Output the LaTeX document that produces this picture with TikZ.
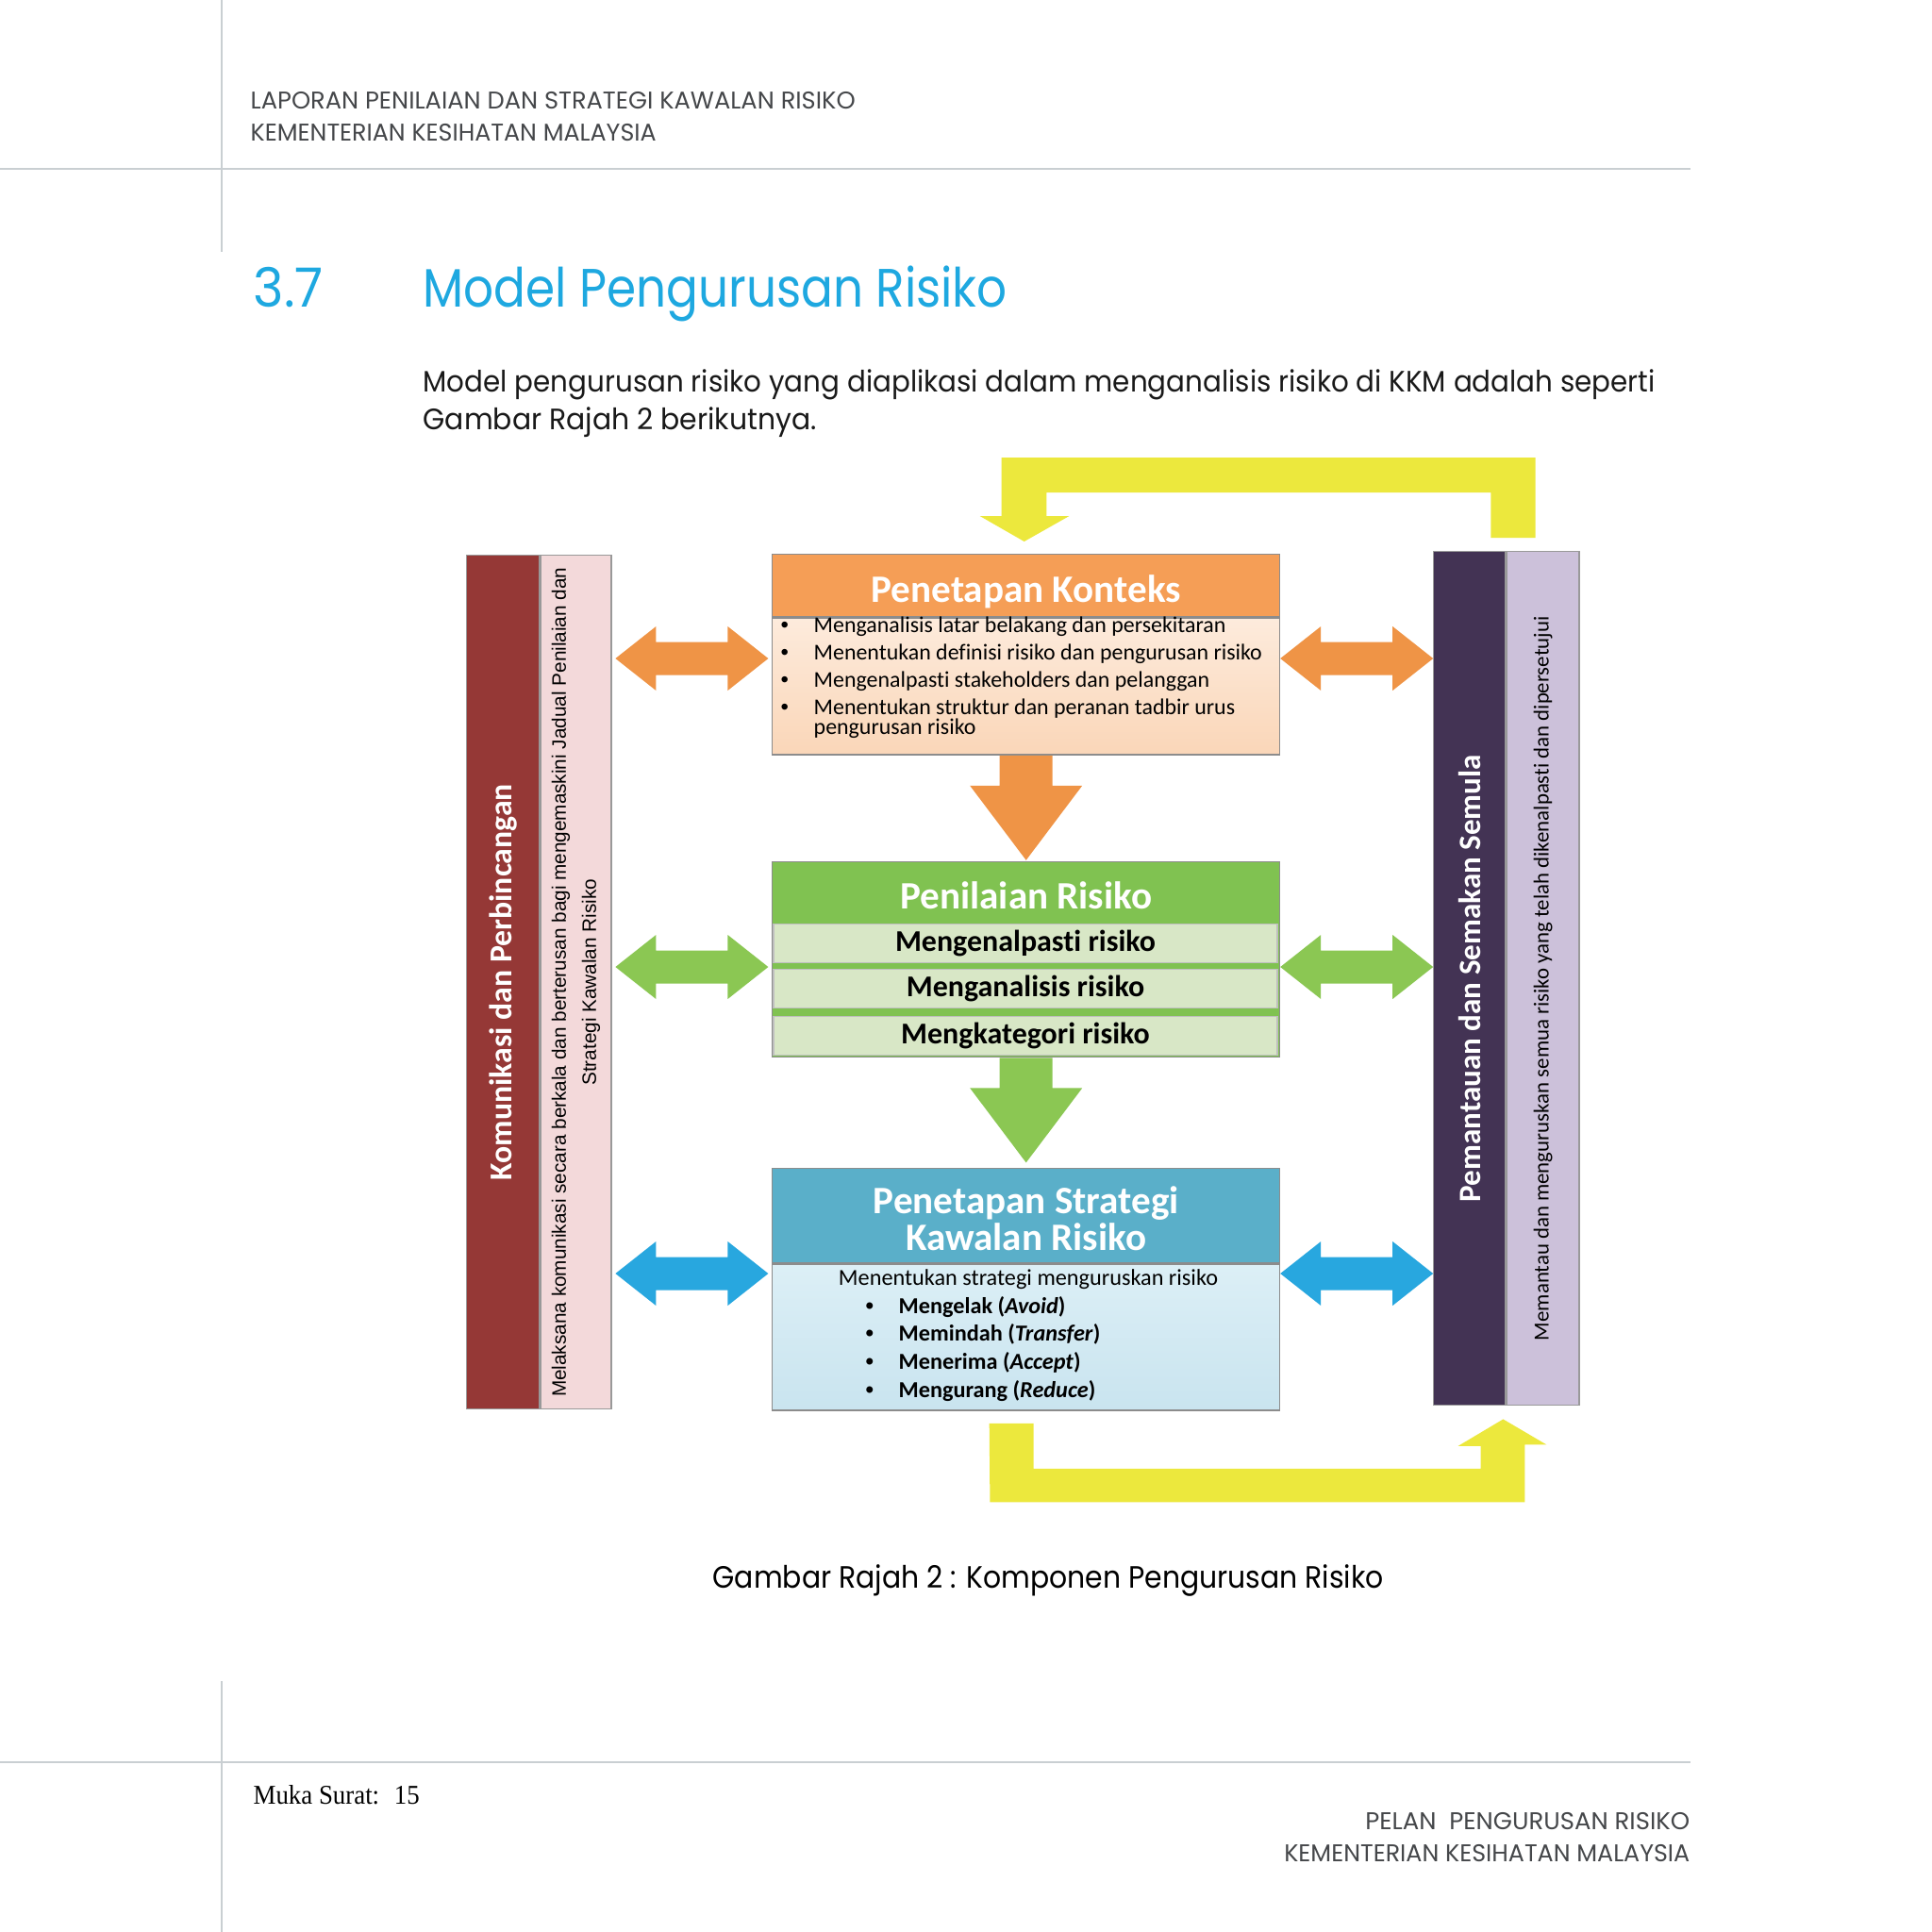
\documentclass[tikz,border=0pt]{standalone}
\usepackage{fontspec}
\usepackage{graphicx}
\setmainfont[Ligatures=NoCommon, Contextuals=NoAlternate]{Carlito}
\newfontfamily\gothic{Poppins}
\newfontfamily\arialf{Liberation Sans}
\newfontfamily\timesf{Liberation Serif}
\usetikzlibrary{calc}

\definecolor{rulegray}{HTML}{C9CFD2}
\definecolor{hdrtext}{HTML}{45474A}
\definecolor{titlecyan}{HTML}{1EA8E0}
\definecolor{kontekshead}{HTML}{F59E56}
\definecolor{konteksbodytop}{HTML}{FDEBDC}
\definecolor{konteksbodybot}{HTML}{FAD6B8}
\definecolor{konteksarr}{HTML}{EF9446}
\definecolor{nilaihead}{HTML}{80C251}
\definecolor{nilairow}{HTML}{D8E7C6}
\definecolor{nilaiarr}{HTML}{8BC753}
\definecolor{strathead}{HTML}{5AAFC9}
\definecolor{stratbodytop}{HTML}{DCEFF6}
\definecolor{stratbodybot}{HTML}{C9E4EF}
\definecolor{stratarr}{HTML}{28A7DF}
\definecolor{komred}{HTML}{953836}
\definecolor{kompink}{HTML}{F3D9DA}
\definecolor{pempurple}{HTML}{433354}
\definecolor{pemlilac}{HTML}{CCC1DA}
\definecolor{loopyellow}{HTML}{ECE83D}

\newcommand{\fitw}[2]{\resizebox{#1}{\height}{#2}}
\newcommand{\kbullet}{\makebox[0.35cm][l]{\arialf\textbullet}}

\tikzset{
  cbox/.style={draw=black!45, line width=0.4pt, inner sep=0pt, anchor=north west, minimum width=5.38cm},
  sidebar/.style={draw=black!40, line width=0.4pt, inner sep=0pt, anchor=north west, minimum height=9.05cm},
  boxtitle/.style={text=white, font=\fontsize{11.7}{10}\selectfont\bfseries, anchor=base},
  kitem/.style={anchor=base west, inner sep=0pt, font=\fontsize{6.8}{8}\selectfont},
  nilrow/.style={anchor=north, inner sep=0pt, minimum width=5.34cm, minimum height=0.41cm, fill=nilairow, draw=black!25, font=\fontsize{9.1}{10}\selectfont\bfseries},
  pagetext/.style={inner sep=0pt, text=hdrtext},
  pics/dblarr/.style={code={
    \path[pic actions] (-0.81,0) -- (-0.38,-0.34) -- (-0.38,-0.175) -- (0.38,-0.175) -- (0.38,-0.34) -- (0.81,0)
      -- (0.38,0.34) -- (0.38,0.175) -- (-0.38,0.175) -- (-0.38,0.34) -- cycle;}},
  pics/downarr/.style={code={
    \path[pic actions] (-0.28,0) -- (0.28,0) -- (0.28,0.32) -- (0.595,0.32) -- (0,1.11) -- (-0.595,0.32) -- (-0.28,0.32) -- cycle;}},
}

\begin{document}
\begin{tikzpicture}[x=1cm,y=-1cm]
\useasboundingbox (0,0) rectangle (20.48,20.48);
\fill[white] (0,0) rectangle (20.48,20.48);

% page rules
\draw[rulegray, line width=0.6pt] (0,1.79) -- (17.92,1.79);
\draw[rulegray, line width=0.6pt] (0,18.68) -- (17.92,18.68);
\draw[rulegray, line width=0.6pt] (2.35,0) -- (2.35,2.67);
\draw[rulegray, line width=0.6pt] (2.35,17.82) -- (2.35,20.48);

% running head
\node[pagetext, anchor=base west, font=\gothic\fontsize{7.3}{9}\selectfont] (hdr1) at (2.65,1.15) {\fitw{6.41cm}{LAPORAN PENILAIAN DAN STRATEGI KAWALAN RISIKO}};
\node[pagetext, anchor=base west, font=\gothic\fontsize{7.3}{9}\selectfont] (hdr2) at (2.65,1.49) {\fitw{4.30cm}{KEMENTERIAN KESIHATAN MALAYSIA}};

% section title
\node[pagetext, anchor=base west, text=titlecyan, font=\gothic\fontsize{16.3}{18}\selectfont] (secno) at (2.68,3.25) {\fitw{0.74cm}{3.7}};
\node[pagetext, anchor=base west, text=titlecyan, font=\gothic\fontsize{16.3}{18}\selectfont] (sectitle) at (4.48,3.25) {\fitw{6.19cm}{Model Pengurusan Risiko}};
\node[pagetext, anchor=base west, text=black!90, font=\gothic\fontsize{8.9}{11}\selectfont] (para1) at (4.48,4.15) {\fitw{13.06cm}{Model pengurusan risiko yang diaplikasi dalam menganalisis risiko di KKM adalah seperti}};
\node[pagetext, anchor=base west, text=black!90, font=\gothic\fontsize{8.9}{11}\selectfont] (para2) at (4.48,4.55) {\fitw{4.17cm}{Gambar Rajah 2 berikutnya.}};

% left bars
\node[sidebar, fill=komred, minimum width=0.77cm] (kom) at (4.94,5.88) {};
\node[sidebar, fill=kompink, minimum width=0.75cm] (kompt) at (kom.north east) {};
\node[rotate=90, text=white, font=\fontsize{9.6}{11}\selectfont\bfseries] (komlbl) at (kom.center) {Komunikasi dan Perbincangan};
\node[rotate=90, align=center, inner sep=0pt, font=\arialf\fontsize{5.9}{9.1}\selectfont] (komtxt) at (kompt.center)
  {Melaksana komunikasi secara berkala dan berterusan bagi mengemaskini Jadual Penilaian dan\\Strategi Kawalan Risiko};

% right bars
\node[sidebar, fill=pempurple, minimum width=0.76cm] (pem) at (15.19,5.84) {};
\node[sidebar, fill=pemlilac, minimum width=0.77cm] (pempt) at (pem.north east) {};
\node[rotate=90, text=white, font=\fontsize{9.4}{11}\selectfont\bfseries] (pemlbl) at (pem.center) {Pemantauan dan Semakan Semula};
\node[rotate=90, inner sep=0pt, font=\fontsize{6.5}{8}\selectfont] (pemtxt) at (pempt.center)
  {Memantau dan menguruskan semua risiko yang telah dikenalpasti dan dipersetujui};

% Penetapan Konteks
\node[cbox, fill=kontekshead, minimum height=0.66cm] (kon) at (8.18,5.87) {};
\node[boxtitle] (kontitle) at ($(kon.center)+(0,0.18)$) {Penetapan Konteks};
\node[cbox, top color=konteksbodytop, bottom color=konteksbodybot, minimum height=1.45cm] (konb) at (kon.south west) {};
\foreach \yy/\txt [count=\i] in {6.70/Menganalisis latar belakang dan persekitaran,
    6.99/Menentukan definisi risiko dan pengurusan risiko,
    7.28/Mengenalpasti stakeholders dan pelanggan,
    7.57/Menentukan struktur dan peranan tadbir urus}
  \node[kitem] (konitem\i) at (8.27,\yy) {\kbullet\txt};
\node[kitem] (konitem5) at (8.62,7.78) {pengurusan risiko};
\pic[fill=konteksarr] at (konb.south) {downarr};

% Penilaian Risiko
\node[cbox, fill=nilaihead, minimum height=2.07cm] (nil) at (8.18,9.13) {};
\node[boxtitle] (niltitle) at ($(nil.north)+(0,0.50)$) {Penilaian Risiko};
\foreach \yy/\txt [count=\i] in {9.79/Mengenalpasti risiko, 10.27/Menganalisis risiko, 10.77/Mengkategori risiko}
  \node[nilrow] (nilrow\i) at (10.87,\yy) {\txt};
\pic[fill=nilaiarr] at (nil.south) {downarr};

% Penetapan Strategi Kawalan Risiko
\node[cbox, fill=strathead, minimum height=1.00cm] (str) at (8.18,12.38) {};
\node[text=white, align=center, font=\fontsize{11.7}{10}\selectfont\bfseries] (strtitle) at ($(str.center)+(0,0.03)$) {Penetapan Strategi\\Kawalan Risiko};
\node[cbox, top color=stratbodytop, bottom color=stratbodybot, minimum height=1.55cm] (strb) at (str.south west) {};
\node[anchor=base, inner sep=0pt, font=\fontsize{6.9}{8}\selectfont] (strlead) at (10.90,13.62) {Menentukan strategi menguruskan risiko};
\foreach \yy/\txt [count=\i] in {13.92/Mengelak (\textit{Avoid}), 14.21/Memindah (\textit{Transfer}),
    14.51/Menerima (\textit{Accept}), 14.81/Mengurang (\textit{Reduce})}
  \node[kitem, font=\fontsize{6.9}{8}\selectfont\bfseries] (stritem\i) at (9.17,\yy) {\kbullet\txt};

% side arrows
\coordinate (lvlkon) at (0,6.98);
\coordinate (lvlnil) at (0,10.25);
\coordinate (lvlstr) at (0,13.50);
\pic[fill=konteksarr] at ($(kompt.east |- lvlkon)!0.5!(kon.west |- lvlkon)$) {dblarr};
\pic[fill=konteksarr] at ($(kon.east |- lvlkon)!0.5!(pem.west |- lvlkon)$) {dblarr};
\pic[fill=nilaiarr] at ($(kompt.east |- lvlnil)!0.5!(nil.west |- lvlnil)$) {dblarr};
\pic[fill=nilaiarr] at ($(nil.east |- lvlnil)!0.5!(pem.west |- lvlnil)$) {dblarr};
\pic[fill=stratarr] at ($(kompt.east |- lvlstr)!0.5!(str.west |- lvlstr)$) {dblarr};
\pic[fill=stratarr] at ($(str.east |- lvlstr)!0.5!(pem.west |- lvlstr)$) {dblarr};

% feedback loops
\coordinate (looptopstart) at ($(pem.north east)+(-0.16,-0.14)$);
\coordinate (looptopend) at ($(kon.north)+(-0.02,-0.13)$);
\fill[loopyellow] (looptopstart) -- ++(0,-0.48) -- ++(-4.71,0) -- ++(0,0.25) -- ++(0.24,0) -- (looptopend)
  -- ++(-0.47,-0.27) -- ++(0.23,0) -- ++(0,-0.62) -- ++(5.66,0) -- ++(0,0.85) -- cycle;
\coordinate (loopbotstart) at ($(strb.south)+(-0.39,0.13)$);
\coordinate (loopbotend) at ($(pem.south east)+(-0.03,0.14)$);
\fill[loopyellow] (loopbotstart) -- ++(0.47,0) -- ++(0,0.48) -- ++(4.74,0) -- ++(0,-0.24) -- ++(-0.24,0) -- (loopbotend)
  -- ++(0.46,0.27) -- ++(-0.23,0) -- ++(0,0.61) -- ++(-5.67,0) -- cycle;

% caption and footer
\node[pagetext, anchor=base west, text=black, font=\gothic\fontsize{9.3}{11}\selectfont] (caption) at (7.55,16.83) {\fitw{7.11cm}{Gambar Rajah 2 : Komponen Pengurusan Risiko}};
\node[pagetext, anchor=base west, text=black, font=\timesf\fontsize{8.2}{10}\selectfont] (pageno) at (2.68,19.12) {\fitw{1.76cm}{Muka Surat:~ 15}};
\node[pagetext, anchor=base east, font=\gothic\fontsize{7.3}{9}\selectfont] (ftr1) at (17.92,19.39) {\fitw{3.44cm}{PELAN~ PENGURUSAN RISIKO}};
\node[pagetext, anchor=base east, font=\gothic\fontsize{7.3}{9}\selectfont] (ftr2) at (17.92,19.73) {\fitw{4.30cm}{KEMENTERIAN KESIHATAN MALAYSIA}};
\end{tikzpicture}
\end{document}
